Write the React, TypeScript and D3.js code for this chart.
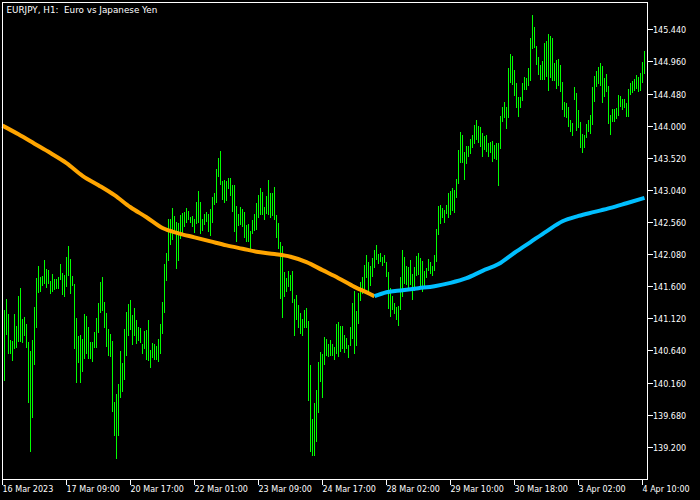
import * as d3 from 'd3';

// EURJPY H1 bars (high / low), one per hour from 16 Mar 02:00
const highs = [
  141.24, 141.41, 141.18, 140.80, 140.78, 141.18, 141.01, 141.45, 141.57, 141.11,
  141.14, 141.04, 140.77, 140.63, 140.80, 141.29, 141.72, 141.90, 141.74, 141.75,
  141.99, 141.86, 141.84, 141.68, 141.78, 141.71, 141.71, 141.74, 141.93, 141.80,
  141.77, 142.04, 142.20, 142.01, 141.75, 141.63, 141.12, 140.86, 140.87, 140.81,
  141.18, 141.15, 140.99, 140.77, 140.77, 140.92, 141.12, 141.35, 141.66, 141.74,
  141.36, 141.20, 140.96, 140.89, 140.78, 139.87, 139.99, 140.14, 140.63, 140.45,
  140.96, 141.21, 141.33, 141.39, 141.17, 141.27, 141.10, 140.99, 140.98, 140.74,
  140.93, 140.95, 141.10, 140.65, 140.75, 140.74, 140.71, 140.81, 141.04, 141.36,
  141.93, 142.10, 142.60, 142.60, 142.77, 142.65, 142.56, 142.54, 142.66, 142.69,
  142.71, 142.77, 142.72, 142.63, 142.65, 142.60, 142.86, 143.02, 142.86, 142.60,
  142.68, 142.71, 142.68, 142.75, 142.93, 142.99, 143.35, 143.52, 143.62, 143.17,
  143.19, 143.17, 143.22, 143.22, 143.11, 143.11, 142.80, 142.68, 142.78, 142.75,
  142.71, 142.51, 142.53, 142.42, 142.59, 142.68, 142.84, 142.96, 143.07, 143.01,
  142.78, 142.95, 143.19, 142.99, 142.99, 143.08, 142.66, 142.54, 142.26, 142.20,
  141.81, 141.72, 141.83, 141.77, 141.83, 141.41, 141.47, 141.32, 141.20, 141.11,
  141.24, 141.27, 141.08, 140.42, 139.61, 139.85, 140.05, 140.47, 140.62, 140.59,
  140.84, 140.81, 140.74, 140.80, 140.74, 140.69, 141.04, 141.07, 141.01, 141.01,
  140.87, 140.83, 140.72, 140.99, 141.35, 141.53, 141.23, 141.50, 141.66, 141.74,
  141.92, 142.07, 141.96, 141.90, 142.02, 142.14, 142.21, 142.08, 142.10, 142.04,
  142.07, 141.96, 141.81, 141.57, 141.45, 141.35, 141.29, 141.30, 141.74, 142.14,
  142.04, 141.90, 141.89, 141.99, 141.78, 141.89, 142.05, 142.10, 142.02, 141.98,
  141.83, 141.87, 142.01, 141.96, 141.90, 142.07, 142.45, 142.80, 142.81, 142.77,
  142.74, 142.81, 142.99, 143.02, 143.07, 143.04, 143.20, 143.64, 143.90, 143.86,
  143.61, 143.70, 143.70, 143.80, 143.86, 144.01, 144.08, 143.99, 143.98, 143.89,
  143.85, 143.86, 143.74, 143.76, 143.77, 143.71, 143.74, 143.74, 144.14, 144.28,
  144.35, 144.28, 144.86, 145.07, 145.04, 144.83, 144.64, 144.43, 144.43, 144.64,
  144.73, 144.71, 144.86, 145.31, 145.65, 145.47, 145.19, 145.03, 144.91, 144.97,
  145.24, 145.27, 145.37, 145.34, 145.31, 144.94, 144.98, 145.00, 144.91, 144.65,
  144.35, 144.34, 144.28, 144.08, 144.04, 144.58, 144.49, 144.23, 144.05, 143.87,
  143.86, 144.02, 144.08, 144.16, 144.58, 144.74, 144.82, 144.88, 144.94, 144.89,
  144.71, 144.77, 144.59, 144.16, 144.25, 144.25, 144.26, 144.46, 144.44, 144.40,
  144.40, 144.34, 144.55, 144.64, 144.67, 144.70, 144.76, 144.73, 144.79, 144.95, 145.12,
];

const lows = [
  140.20, 140.89, 140.60, 140.60, 140.50, 140.68, 140.69, 140.78, 140.78, 140.77,
  140.87, 140.69, 139.87, 139.13, 139.65, 140.44, 140.99, 141.51, 141.53, 141.62,
  141.65, 141.59, 141.65, 141.50, 141.53, 141.56, 141.57, 141.57, 141.71, 141.48,
  141.45, 141.60, 141.77, 141.50, 141.62, 140.68, 140.17, 140.47, 140.17, 140.33,
  140.53, 140.60, 140.53, 140.53, 140.48, 140.69, 140.69, 140.92, 141.21, 141.24,
  140.99, 140.71, 140.57, 140.56, 139.74, 139.37, 139.03, 139.38, 139.95, 140.04,
  140.21, 140.57, 140.87, 140.96, 140.74, 140.87, 140.75, 140.80, 140.77, 140.60,
  140.68, 140.51, 140.50, 140.39, 140.54, 140.51, 140.51, 140.48, 140.60, 140.90,
  141.21, 141.69, 141.99, 142.23, 142.30, 142.41, 141.87, 141.99, 142.32, 142.36,
  142.50, 142.56, 142.60, 142.56, 142.50, 142.41, 142.54, 142.56, 142.39, 142.44,
  142.53, 142.57, 142.42, 142.36, 142.56, 142.83, 142.86, 143.25, 143.13, 142.90,
  142.86, 142.89, 143.07, 142.96, 142.72, 142.42, 142.27, 142.51, 142.53, 142.50,
  142.33, 142.27, 142.27, 142.13, 142.39, 142.44, 142.45, 142.63, 142.68, 142.68,
  142.60, 142.69, 142.68, 142.63, 142.66, 142.60, 142.33, 142.17, 141.42, 141.14,
  141.45, 141.53, 141.60, 141.54, 141.36, 140.87, 141.11, 140.99, 140.90, 140.87,
  140.99, 140.99, 139.90, 139.13, 139.07, 139.07, 139.28, 139.72, 140.18, 139.95,
  140.44, 140.57, 140.56, 140.57, 140.57, 140.51, 140.60, 140.56, 140.63, 140.68,
  140.62, 140.68, 140.54, 140.72, 140.83, 140.60, 140.72, 141.05, 141.39, 141.50,
  141.56, 141.74, 141.53, 141.62, 141.75, 141.89, 142.01, 141.95, 141.98, 141.92,
  141.96, 141.75, 141.27, 141.15, 141.26, 141.20, 141.11, 141.02, 141.26, 141.45,
  141.65, 141.63, 141.59, 141.63, 141.41, 141.54, 141.77, 141.78, 141.62, 141.53,
  141.60, 141.74, 141.84, 141.80, 141.77, 141.84, 141.98, 142.38, 142.54, 142.63,
  142.56, 142.69, 142.63, 142.68, 142.74, 142.71, 142.93, 143.14, 143.46, 143.46,
  143.20, 143.44, 143.55, 143.59, 143.68, 143.74, 143.80, 143.76, 143.70, 143.55,
  143.65, 143.62, 143.55, 143.61, 143.47, 143.52, 143.50, 143.11, 143.67, 144.07,
  144.13, 143.96, 144.13, 144.65, 144.62, 144.46, 144.28, 144.14, 144.28, 144.38,
  144.55, 144.55, 144.61, 144.68, 145.16, 145.18, 144.92, 144.77, 144.70, 144.70,
  144.70, 144.74, 144.53, 144.73, 144.68, 144.68, 144.56, 144.61, 144.52, 144.25,
  144.14, 144.13, 143.99, 143.92, 143.86, 144.40, 143.93, 143.98, 143.68, 143.61,
  143.68, 143.83, 143.92, 143.89, 144.02, 144.37, 144.59, 144.64, 144.61, 144.35,
  144.44, 144.52, 144.04, 143.87, 144.07, 144.07, 144.11, 144.16, 144.29, 144.25,
  144.28, 144.14, 144.14, 144.47, 144.50, 144.53, 144.56, 144.52, 144.53, 144.65, 144.79,
];

// moving average, sampled at these bar indices
const maBars = [
  0, 8, 16, 24, 32, 40, 48, 56, 64, 72, 80, 88, 96, 104, 112, 120, 128, 136, 144, 152,
  160, 168, 176, 184, 186, 192, 200, 208, 216, 224, 232, 240, 248, 256, 264, 272, 280,
  288, 296, 304, 312, 321,
];
const maValues = [
  144.00, 143.87, 143.73, 143.59, 143.44, 143.25, 143.11, 142.96, 142.78, 142.63,
  142.47, 142.39, 142.33, 142.27, 142.21, 142.16, 142.11, 142.08, 142.04, 141.96,
  141.84, 141.72, 141.59, 141.48, 141.45, 141.51, 141.54, 141.57, 141.60, 141.65,
  141.72, 141.83, 141.93, 142.10, 142.26, 142.42, 142.57, 142.65, 142.71, 142.77,
  142.84, 142.92,
];

const yTicks = [
  145.44, 144.96, 144.48, 144.0, 143.52, 143.04, 142.56, 142.08, 141.6, 141.12,
  140.64, 140.16, 139.68, 139.2,
];

const xTickBars = [0, 32, 64, 96, 128, 160, 192, 224, 256, 288, 320];
const xTickLabels = [
  '16 Mar 2023', '17 Mar 09:00', '20 Mar 17:00', '22 Mar 01:00', '23 Mar 09:00',
  '24 Mar 17:00', '28 Mar 02:00', '29 Mar 10:00', '30 Mar 18:00', '3 Apr 02:00',
  '4 Apr 10:00',
];

const title = 'EURJPY, H1:  Euro vs Japanese Yen';

const W = 700;
const H = 500;
const left = 2.5;
const right = 647.5;
const top = 2.5;
const bottom = 479.5;
const font = '"DejaVu Sans", Verdana, sans-serif';

export default function App() {
  const x = d3.scaleLinear().domain([0, 321]).range([2.5, 644.5]);
  const y = d3.scaleLinear().domain([138.718, 145.848]).range([479, 2]);

  const ma = maBars.map((b, i) => ({ b, v: maValues[i] }));
  // split the average into rising / falling runs
  const runs: { up: boolean; pts: { b: number; v: number }[] }[] = [];
  for (let i = 1; i < ma.length; i++) {
    const up = ma[i].v > ma[i - 1].v;
    const last = runs[runs.length - 1];
    if (last && last.up === up) last.pts.push(ma[i]);
    else runs.push({ up, pts: [ma[i - 1], ma[i]] });
  }
  const line = d3
    .line<{ b: number; v: number }>()
    .x((d) => x(d.b))
    .y((d) => y(d.v))
    .curve(d3.curveMonotoneX);

  return (
    <svg
      width={W}
      height={H}
      style={{ position: 'absolute', left: 0, top: 0, display: 'block' }}
    >
      <rect width={W} height={H} fill="#000" />
      <g shapeRendering="crispEdges">
        {highs.map((h, i) => (
          <line
            key={i}
            x1={x(i + 1)}
            x2={x(i + 1)}
            y1={Math.round(y(h))}
            y2={Math.round(y(lows[i])) + 1}
            stroke="#00ff00"
            strokeWidth={1}
          />
        ))}
      </g>
      {runs.map((r, i) => (
        <path
          key={i}
          d={line(r.pts) || ''}
          fill="none"
          stroke={r.up ? '#00bfff' : '#ffa500'}
          strokeWidth={4}
        />
      ))}
      <g shapeRendering="crispEdges" stroke="#fff" strokeWidth={1}>
        <rect x={left} y={top} width={right - left} height={bottom - top} fill="none" />
        {yTicks.map((t) => (
          <line key={t} x1={right} x2={right + 5} y1={Math.round(y(t)) + 0.5} y2={Math.round(y(t)) + 0.5} />
        ))}
        {xTickBars.map((b) => (
          <line key={b} x1={x(b)} x2={x(b)} y1={bottom} y2={bottom + 5} />
        ))}
      </g>
      <g fill="#fff" fontFamily={font} fontSize={8}>
        {yTicks.map((t) => (
          <text key={t} x={653} y={Math.round(y(t)) + 3.5}>
            {t.toFixed(3)}
          </text>
        ))}
        {xTickBars.map((b, i) => (
          <text key={b} x={x(b)} y={492}>
            {xTickLabels[i]}
          </text>
        ))}
      </g>
      <text
        x={6.5}
        y={12.5}
        fill="#fff"
        fontFamily={font}
        fontSize={8.8}
        style={{ whiteSpace: 'pre' }}
      >
        {title}
      </text>
    </svg>
  );
}
